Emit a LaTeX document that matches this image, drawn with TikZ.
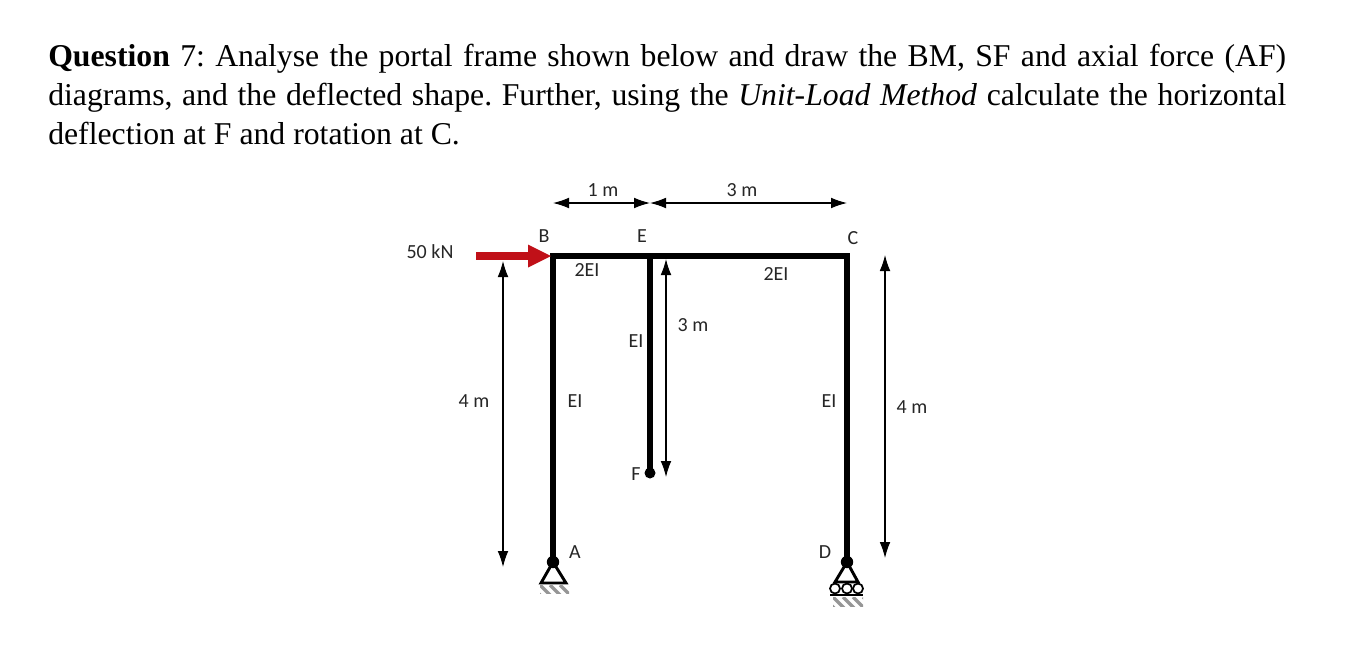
\documentclass[tikz,border=0pt]{standalone}
\usepackage{fontspec}
\setmainfont{Liberation Serif}
\newfontfamily\labelfont{Carlito}
\usetikzlibrary{arrows.meta}
\definecolor{loadred}{RGB}{192,16,24}
\definecolor{hatchgray}{RGB}{150,150,150}
\newcommand{\drawthick}{\draw[line width=4.4pt]}
\newcommand{\drawdim}{\draw[line width=0.8pt,{Latex[length=12pt,width=8pt]}-{Latex[length=12pt,width=8pt]}]}
\newcommand{\framelabel}[4]{\node[framelabel] (#1) at (#2,#3) {#4};}
\newcommand{\drawhatch}[4]{
    \begin{scope}
    \clip (#1,#3) rectangle (#2,#4);
    \foreach \x in {-20,-10,...,40}{
      \draw[hatchgray,line width=2.6pt] (#1+\x,#3)--++(12,12);
    }
    \end{scope}
}
\tikzset{framelabel/.style={font=\labelfont\fontsize{15}{17}\selectfont,inner sep=0pt,text=black!85}}

\begin{document}
\begin{tikzpicture}[x=0.75pt,y=-0.75pt]
\useasboundingbox (0,0) rectangle (1362,647);
\node[anchor=north west,inner sep=0pt,text width=928.5pt,align=justify,font=\fontsize{23.8}{29.2}\selectfont] (question) at (48,44)
    {\frenchspacing\textbf{Question} 7: Analyse the portal frame shown below and draw the BM, SF and axial force (AF)\linebreak diagrams, and the deflected shape. Further, using the \textit{Unit-Load Method} calculate the horizontal\linebreak deflection at F and rotation at C.\par};
\coordinate (B) at (553,256);
\coordinate (E) at (650,256);
\coordinate (C) at (847,256);
\coordinate (F) at (650,473);
\coordinate (A) at (553,562);
\coordinate (D) at (847,562);
% frame
\drawthick[line cap=rect] (B)--(C);
\drawthick (B)--(A);
\drawthick (C)--(D);
\drawthick (E)--(F);
\fill (F) circle (5.5);
% supports
\drawhatch{540}{569}{585}{593}
\drawhatch{833}{863}{597}{606}
\draw[line width=2.2pt,fill=white] (A)--(541,583)--(566,583)--cycle;
\draw[line width=2.2pt,fill=white] (D)--(835,582)--(858,582)--cycle;
\fill (A) circle (6.2);
\fill (D) circle (6.2);
\foreach \x in {835,847,858}{
  \draw[line width=1.3pt,fill=white] (\x,588.5) circle (5);
}
\draw[line width=1.5pt] (830,595)--(863,595);
% load
\coordinate (loadtail) at (476,256);
\coordinate (loadtip) at (551,256);
\draw[loadred,line width=6pt] (loadtail)--(530,256);
\fill[loadred] (528,244.5)--(loadtip)--(528,267.5)--cycle;
% dimensions
\coordinate (dimB) at (553,203);
\coordinate (dimE) at (650,203);
\coordinate (dimC) at (847,203);
\coordinate (dimAtop) at (503,261);
\coordinate (dimAbot) at (503,567);
\coordinate (dimCtop) at (885,255);
\coordinate (dimCbot) at (885,558);
\coordinate (dimEtop) at (666,259);
\coordinate (dimFbot) at (666,477);
\drawdim (dimB)--(dimE);
\drawdim (dimE)--(dimC);
\drawdim (dimAtop)--(dimAbot);
\drawdim (dimCtop)--(dimCbot);
\drawdim (dimEtop)--(dimFbot);
% labels
\framelabel{load}{430}{252}{50 kN}
\framelabel{lB}{544}{236}{B}
\framelabel{lE}{642}{236}{E}
\framelabel{lC}{853}{238}{C}
\framelabel{lA}{575}{552}{A}
\framelabel{lD}{825}{552}{D}
\framelabel{lF}{636}{474}{F}
\framelabel{beamBE}{587}{270}{2EI}
\framelabel{beamEC}{776}{274}{2EI}
\framelabel{colE}{636}{341}{EI}
\framelabel{colA}{575}{401}{EI}
\framelabel{colD}{829}{401}{EI}
\framelabel{spanBE}{603}{190}{1 m}
\framelabel{spanEC}{742}{190}{3 m}
\framelabel{spanEF}{693}{325}{3 m}
\framelabel{spanA}{474}{401}{4 m}
\framelabel{spanD}{912}{407}{4 m}
\end{tikzpicture}
\end{document}
